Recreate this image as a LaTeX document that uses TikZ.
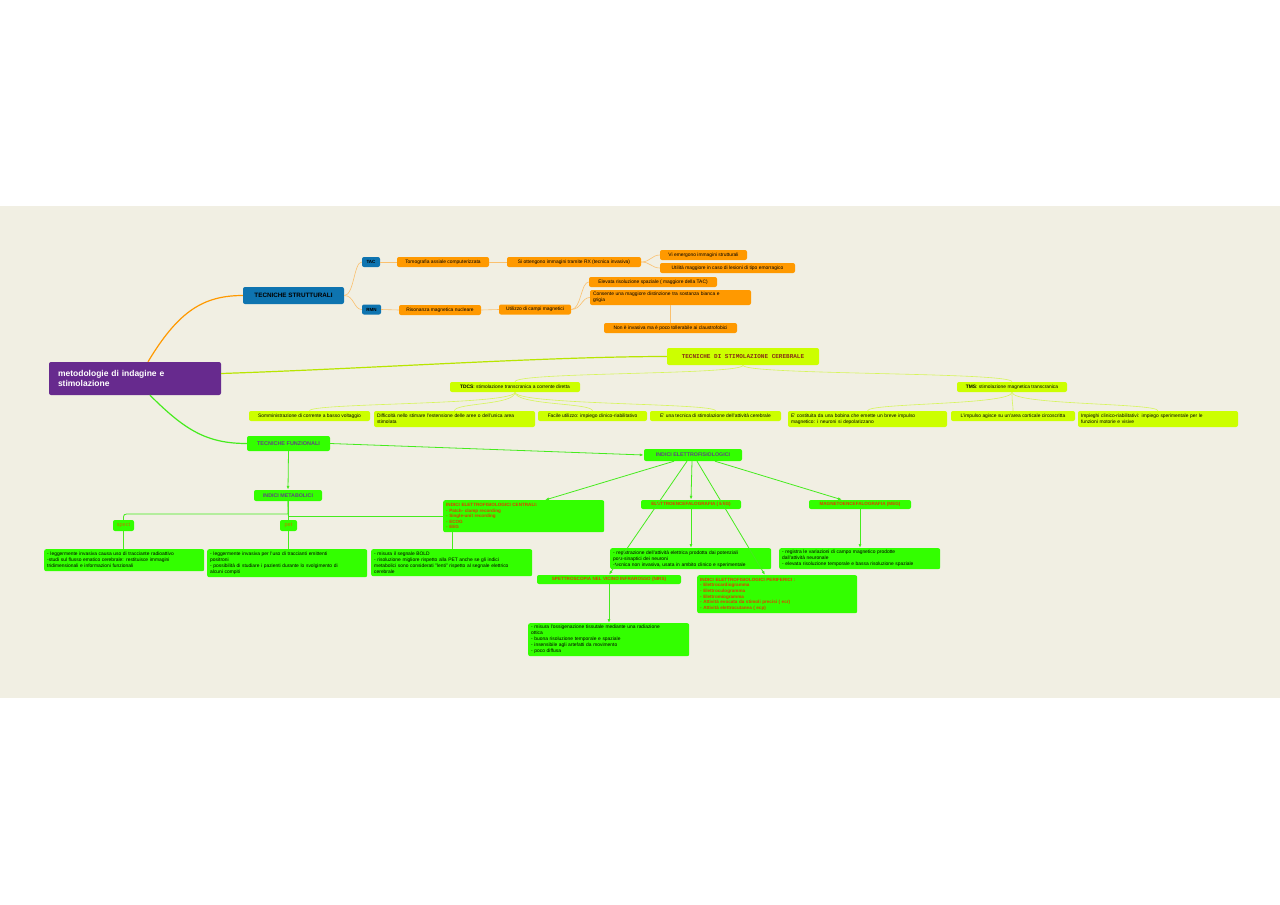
\documentclass[tikz,border=0pt]{standalone}
\usepackage{fontspec}
\setmainfont{Liberation Sans}
\newfontfamily\titlemono{Liberation Mono}
\usetikzlibrary{arrows.meta}
\definecolor{bgbeige}{RGB}{241,239,227}
\definecolor{mppurple}{RGB}{103,42,142}
\definecolor{mpblue}{RGB}{14,116,176}
\definecolor{mporange}{RGB}{255,153,0}
\definecolor{mporangeline}{RGB}{250,192,110}
\definecolor{mplime}{RGB}{204,255,0}
\definecolor{mplimeline}{RGB}{214,245,90}
\definecolor{mpgreen}{RGB}{51,255,0}
\definecolor{mpgreenline}{RGB}{70,235,30}
\definecolor{mpred}{RGB}{222,62,0}
\definecolor{mpgrape}{RGB}{95,72,128}
\definecolor{mpbrown}{RGB}{135,50,20}
\definecolor{mpochre}{RGB}{185,125,0}
\tikzset{
	tinytext/.style={font=\fontsize{4.9}{6}\selectfont},
	mapbox/.style={rounded corners=2pt, inner xsep=3pt, inner ysep=1.5pt, align=left, tinytext},
	orangebox/.style={mapbox, fill=mporange, minimum height=10pt},
	bluebox/.style={mapbox, fill=mpblue, font=\fontsize{4.5}{5}\selectfont\bfseries, minimum height=10pt},
	limebox/.style={mapbox, fill=mplime, minimum height=10pt},
	greenbox/.style={mapbox, fill=mpgreen},
	grapelabel/.style={greenbox, text=mpgrape, font=\fontsize{5.3}{6}\selectfont\bfseries, align=center},
	redlabel/.style={greenbox, text=mpred, font=\fontsize{4.6}{5.6}\selectfont\bfseries, minimum height=9pt},
	ochrelabel/.style={greenbox, text=mpochre, font=\fontsize{5.5}{6}\selectfont, minimum height=11pt, inner xsep=1pt, align=center},
	orangeline/.style={draw=mporangeline, line width=0.6pt},
	limeline/.style={draw=mplimeline, line width=0.6pt},
	greenline/.style={draw=mpgreenline, line width=0.8pt},
	greenarrow/.style={greenline, -{Latex[length=4pt,width=3pt]}}
}

\begin{document}
\begin{tikzpicture}[x=1pt,y=-1pt]
			%%%%% START %%%%%
			\useasboundingbox (0,0) rectangle (1280,905);
			\fill[white] (0,0) rectangle (1280,905);
			\fill[bgbeige] (0,206) rectangle (1280,698);
			
			\node[mapbox, fill=mppurple, text=white, font=\fontsize{8.5}{10}\selectfont\bfseries, text width=154pt, inner xsep=9pt, minimum height=33pt] (metodo) at (135,378.5) {metodologie di indagine e\\stimolazione};
			
			\node[bluebox, font=\fontsize{6.3}{7}\selectfont\bfseries, minimum width=101pt, minimum height=17pt] (strutt) at (293.5,295.5) {TECNICHE STRUTTURALI};
			\node[bluebox, minimum width=18pt] (tac) at (371,262) {TAC};
			\node[bluebox, minimum width=19pt] (rmn) at (371.5,309.5) {RMN};
			
			\node[orangebox, minimum width=92pt] (tomo) at (443,262) {Tomografia assiale computerizzata};
			\node[orangebox, minimum width=134pt] (ottengono) at (574,262) {Si ottengono immagini tramite RX (tecnica invasiva)};
			\node[orangebox, minimum width=87pt] (emergono) at (703.5,255) {Vi emergono immagini strutturali};
			\node[orangebox, minimum width=135pt] (utilita) at (727.5,268) {Utilità maggiore in caso di lesioni di tipo emorragico};
			\node[orangebox, minimum width=82pt] (risonanza) at (440,310) {Risonanza magnetica nucleare};
			\node[orangebox, minimum width=72pt] (campi) at (535,309.5) {Utilizzo di campi magnetici};
			\node[orangebox, minimum width=128pt] (elevata) at (653,282) {Elevata risoluzione spaziale ( maggiore della TAC)};
			\node[orangebox, text width=155pt, minimum height=15pt] (consente) at (670.5,297.5) {Consente una maggiore distinzione tra sostanza bianca e\\grigia};
			\node[orangebox, minimum width=133pt] (noninv) at (670.5,328) {Non è invasiva ma è poco tollerabile ai claustrofobici};
			
			\draw[draw=mporange, line width=1.2pt] ([xshift=13pt]metodo.north) .. controls +(30,-50) and +(-40,0) .. (strutt.west);
			\draw[orangeline] (strutt.east) .. controls +(10,0) and +(-8,0) .. (tac.west);
			\draw[orangeline] (strutt.east) .. controls +(10,0) and +(-8,0) .. (rmn.west);
			\draw[orangeline] (tac.east) -- (tomo.west);
			\draw[orangeline] (tomo.east) -- (ottengono.west);
			\draw[orangeline] (ottengono.east) .. controls +(9,0) and +(-8,0) .. (emergono.west);
			\draw[orangeline] (ottengono.east) .. controls +(9,0) and +(-8,0) .. (utilita.west);
			\draw[orangeline] (rmn.east) -- (risonanza.west);
			\draw[orangeline] (risonanza.east) -- (campi.west);
			\draw[orangeline] (campi.east) .. controls +(10,0) and +(-8,0) .. (elevata.west);
			\draw[orangeline] (campi.east) .. controls +(10,0) and +(-8,0) .. (consente.west);
			\draw[orangeline] (consente.south) -- (noninv.north);
			
			\node[limebox, font=\titlemono\fontsize{6}{7}\selectfont\bfseries, text=mpbrown, minimum width=152pt, minimum height=17pt] (stimol) at (743,356.5) {TECNICHE DI STIMOLAZIONE CEREBRALE};
			\node[limebox, minimum width=130pt] (tdcs) at (515,387) {\textbf{TDCS}: stimolazione transcranica a corrente diretta};
			\node[limebox, minimum width=110pt] (tms) at (1012,387) {\textbf{TMS}: stimolazione magnetica transcranica};
			\node[limebox, minimum width=121pt] (somm) at (309.5,416) {Somministrazione di corrente a basso voltaggio};
			\node[limebox, text width=155pt, minimum height=16pt] (diffic) at (454.5,419) {Difficoltà nello stimare l'estensione delle aree o dell'unica area\\stimolata};
			\node[limebox, minimum width=109pt] (facile) at (592.5,416) {Facile utilizzo: impiego clinico-riabilitativo};
			\node[limebox, minimum width=131pt] (tecnica) at (715.5,416) {E' una tecnica di stimolazione dell'attività cerebrale};
			\node[limebox, text width=153pt, minimum height=16pt] (bobina) at (867.5,419) {E' costituita da una bobina che emette un breve impulso\\magnetico: i neuroni si depolarizzano};
			\node[limebox, minimum width=124pt] (impulso) at (1013,416) {L'impulso agisce su un'area corticale circoscritta};
			\node[limebox, text width=154pt, minimum height=16pt] (impieghi) at (1158,419) {Impieghi clinico-riabilitativi: impiego sperimentale per le\\funzioni motorie e visive};
			
			\draw[draw=mplime!90!black, line width=1.2pt] ([yshift=5pt]metodo.east) .. controls +(150,-5) and +(-120,0) .. (stimol.west);
			\draw[limeline] (stimol.south) .. controls +(0,10) and +(0,-10) .. (tdcs.north);
			\draw[limeline] (stimol.south) .. controls +(0,10) and +(0,-10) .. (tms.north);
			\draw[limeline] (tdcs.south) .. controls +(0,13) and +(0,-8) .. (somm.north);
			\draw[limeline] (tdcs.south) .. controls +(0,13) and +(0,-8) .. (diffic.north);
			\draw[limeline] (tdcs.south) .. controls +(0,13) and +(0,-8) .. (facile.north);
			\draw[limeline] (tdcs.south) .. controls +(0,13) and +(0,-8) .. (tecnica.north);
			\draw[limeline] (tms.south) .. controls +(0,13) and +(0,-8) .. (bobina.north);
			\draw[limeline] (tms.south) .. controls +(0,13) and +(0,-8) .. (impulso.north);
			\draw[limeline] (tms.south) .. controls +(0,13) and +(0,-8) .. (impieghi.north);
			
			\node[grapelabel, font=\fontsize{5.5}{6}\selectfont\bfseries, minimum width=83pt, minimum height=15pt] (funz) at (288.5,443.5) {TECNICHE FUNZIONALI};
			\node[grapelabel, minimum width=68pt, minimum height=11pt] (metab) at (288,495.5) {INDICI METABOLICI};
			\node[grapelabel, minimum width=98pt, minimum height=12pt] (elettro) at (693,455) {INDICI ELETTROFISIOLOGICI};
			
			\node[ochrelabel, minimum width=21pt] (spect) at (123.5,525.5) {spect};
			\node[ochrelabel, minimum width=17pt] (pet) at (288.5,525.5) {pet};
			\node[greenbox, text width=154pt, minimum height=22pt, anchor=north west] (spectd) at (44,549) {- leggermente invasiva causa uso di tracciante radioattivo\\-studi sul flusso ematico cerebrale: restituisce immagini\\tridimensionali e informazioni funzionali};
			\node[greenbox, text width=154pt, minimum height=28pt, anchor=north west] (petd) at (207,549) {- leggermente invasiva per l'uso di traccianti emittenti\\positroni\\- possibilità di studiare i pazienti durante lo svolgimento di\\alcuni compiti};
			\node[greenbox, text width=155pt, minimum height=27pt, anchor=north west] (boldd) at (371,549) {- misura il segnale BOLD\\- risoluzione migliore rispetto alla PET anche se gli indici\\metabolici sono considerati "lenti" rispetto al segnale elettrico\\cerebrale};
			\node[redlabel, text width=155pt, minimum height=32pt, anchor=north west] (centrali) at (443,500) {INDICI ELETTROFISIOLOGICI CENTRALI:\\- Patch- clamp recording\\- Single-unit recording\\- ECOG\\- EEG};
			
			\node[redlabel, minimum width=100pt] (eeg) at (691,504.5) {ELETTROENCEFALOGRAFIA ( EEG)};
			\node[redlabel, minimum width=102pt] (meg) at (860,504.5) {MAGNETOENCEFALOGRAFIA (MEG)};
			\node[greenbox, text width=155pt, minimum height=21pt, anchor=north west] (eegd) at (610,548) {- registrazione dell'attività elettrica prodotta dai potenziali\\post-sinaptici dei neuroni\\-tecnica non invasiva, usata in ambito clinico e sperimentale};
			\node[greenbox, text width=155pt, minimum height=21pt, anchor=north west] (megd) at (779,548) {- registra le variazioni di campo magnetico prodotte\\dall'attività neuronale\\- elevata risoluzione temporale e bassa risoluzione spaziale};
			\node[redlabel, minimum width=144pt] (nirs) at (609,579.5) {SPETTROSCOPIA NEL VICINO INFRAROSSO (NIRS)};
			\node[redlabel, text width=154pt, minimum height=38pt, anchor=north west] (perif) at (697,575) {INDICI ELETTROFISIOLOGICI PERIFERICI :\\- Elettrocardiogramma\\- Elettroculogramma\\- Elettromiogramma\\- Attività evocata da stimoli precisi ( ecr)\\- Attività elettrocutanea ( ecp)};
			\node[greenbox, text width=155pt, minimum height=33pt, anchor=north west] (nirsd) at (528,623) {- misura l'ossigenazione tissutale mediante una radiazione\\ottica\\- buona risoluzione temporale e spaziale\\- insensibile agli artefatti da movimento\\- poco diffusa};
			
			\draw[greenline, line width=1.2pt] ([xshift=15pt]metodo.south) .. controls +(35,35) and +(-40,0) .. (funz.west);
			\draw[greenarrow] (funz.east) -- (elettro.west);
			\draw[greenarrow] (funz.south) -- (metab.north);
			\draw[greenline] (metab.south) -- (pet.north);
			\draw[greenline] (metab.south) |- (130,514) .. controls (123.5,514) .. (spect.north);
			\draw[greenline] (metab.south) |- (centrali.west);
			\draw[greenline] (spect.south) -- (spect.south |- spectd.north);
			\draw[greenline] (pet.south) -- (pet.south |- petd.north);
			\draw[greenline] ([xshift=9pt]centrali.south west) -- ([xshift=9pt]centrali.south west |- boldd.north);
			
			\draw[greenarrow] ([xshift=-19pt]elettro.south) -- ([xshift=102pt]centrali.north west);
			\draw[greenarrow] ([xshift=-6pt]elettro.south) -- (nirs.north);
			\draw[greenarrow] ([xshift=-1pt]elettro.south) -- (eeg.north);
			\draw[greenarrow] ([xshift=4pt]elettro.south) -- ([xshift=68pt]perif.north west);
			\draw[greenarrow] ([xshift=22pt]elettro.south) -- ([xshift=-18pt]meg.north);
			\draw[greenarrow] (eeg.south) -- (eeg.south |- eegd.north);
			\draw[greenarrow] (meg.south) -- (meg.south |- megd.north);
			\draw[greenarrow] (nirs.south) -- (nirs.south |- nirsd.north);
			
			%%%%% END %%%%%
\end{tikzpicture}
\end{document}
